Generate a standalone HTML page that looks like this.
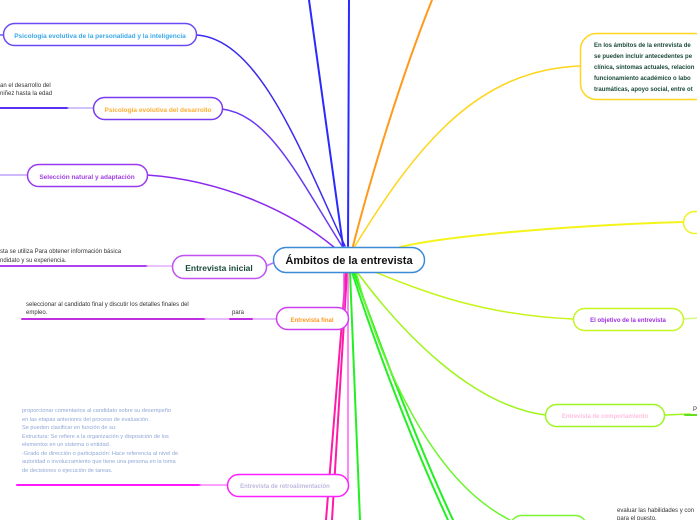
<!DOCTYPE html>
<html><head><meta charset="utf-8"><style>
body{margin:0;background:#fff;width:697px;height:520px;overflow:hidden}
svg text{font-family:"Liberation Sans","DejaVu Sans",sans-serif}
</style></head><body>
<svg width="697" height="520" viewBox="0 0 697 520" xmlns="http://www.w3.org/2000/svg">
<g fill="none" stroke-linecap="round">
<!-- blue -->
<path d="M309,0 L343,246" stroke="#2a2aff" stroke-width="2"/>
<path d="M349,0 L348,246" stroke="#2a2aff" stroke-width="2"/>
<path d="M197,35 C260,40 300,150 345,246" stroke="#3a2aee" stroke-width="1.5"/>
<path d="M222,109 C270,115 300,180 342,246" stroke="#6a3af0" stroke-width="1.5"/>
<path d="M147,175 C220,180 290,210 335,248" stroke="#8a2aee" stroke-width="1.5"/>
<!-- orange -->
<path d="M432,0 C400,80 370,180 353,246" stroke="#ff9a1a" stroke-width="2"/>
<!-- yellow -->
<path d="M580,66 C480,70 420,140 355,246" stroke="#ffd51a" stroke-width="1.5"/>
<path d="M683,222 C580,225 450,235 400,247" stroke="#f4f41a" stroke-width="2"/>
<!-- yellow green -->
<path d="M573,319 C480,315 420,290 375,272" stroke="#c6f51a" stroke-width="1.5"/>
<path d="M683,319 L697,318" stroke="#d8f880" stroke-width="1.5"/>
<path d="M545,415 C470,405 400,330 357,272" stroke="#9ef51a" stroke-width="1.5"/>
<path d="M664,415 L690,414" stroke="#9ef51a" stroke-width="1.5"/>
<path d="M685,415 L697,415" stroke="#60e020" stroke-width="2"/>
<!-- green -->
<path d="M350,272 L360,520" stroke="#22f022" stroke-width="2"/>
<path d="M352,272 C380,360 420,460 448,520" stroke="#22f022" stroke-width="2"/>
<path d="M354,272 C385,360 425,460 453,520" stroke="#22f022" stroke-width="2"/>
<path d="M356,272 C380,360 430,480 510,520" stroke="#6ef530" stroke-width="1.5"/>
<!-- magenta -->
<path d="M346,272 L326,520" stroke="#ff1aa8" stroke-width="2"/>
<path d="M347,272 L332,520" stroke="#ff1aa8" stroke-width="2"/>
<path d="M348,272 L348,485" stroke="#ff60f0" stroke-width="1.5"/>
<path d="M344,272 L344,310" stroke="#e050f0" stroke-width="1.5"/>
<!-- left connectors -->
<path d="M266,266 L273,263" stroke="#c070ff" stroke-width="1.5"/>
<path d="M0,266 L147,266" stroke="#b040f0" stroke-width="2"/>
<path d="M147,266 L172,266" stroke="#e0b0ff" stroke-width="1.5"/>
<path d="M22,319 L205,319" stroke="#c030e0" stroke-width="2"/>
<path d="M205,319 L276,319" stroke="#e0a0ff" stroke-width="1.5"/>
<path d="M230,319 L252,319" stroke="#c030e0" stroke-width="2"/>
<path d="M17,485 L200,485" stroke="#ff1aff" stroke-width="2"/>
<path d="M200,485 L227,485" stroke="#ff80ff" stroke-width="1.5"/>
<path d="M0,108 L68,108" stroke="#5a30f0" stroke-width="2"/>
<path d="M68,108 L93,108" stroke="#c0b0ff" stroke-width="1.5"/>
<path d="M0,175 L27,175" stroke="#c0a0ff" stroke-width="1.5"/>
<path d="M0,35 L3,35" stroke="#6a5af0" stroke-width="1.5"/>
</g>
<!-- nodes -->
<g stroke-width="1.5" fill="#fff">
<rect x="3.5" y="23.5" width="193" height="22" rx="11" stroke="#6a4af5"/>
<rect x="93.5" y="97.5" width="129" height="22" rx="11" stroke="#7a3af0"/>
<rect x="27.5" y="164.5" width="120" height="22" rx="11" stroke="#9a3af0"/>
<rect x="172.5" y="255.5" width="94" height="23" rx="11.5" stroke="#c050f0"/>
<rect x="276.5" y="307.5" width="72" height="22" rx="11" stroke="#d040f0"/>
<rect x="227.5" y="474.5" width="121" height="22" rx="11" stroke="#ff20ff"/>
<rect x="273.5" y="247.5" width="151" height="25" rx="12.5" stroke="#3a8ad8"/>
<rect x="580.5" y="33.5" width="130" height="66" rx="16" stroke="#ffd520"/>
<rect x="683.5" y="211.5" width="30" height="22" rx="11" stroke="#f0f020"/>
<rect x="573.5" y="308.5" width="110" height="22" rx="11" stroke="#c6f520"/>
<rect x="545.5" y="404.5" width="119" height="22" rx="11" stroke="#9ef520"/>
<rect x="510.5" y="515.5" width="76" height="22" rx="11" stroke="#7af530"/>
</g>
<g font-weight="bold" text-anchor="middle">
<text x="100" y="38" font-size="6.5" fill="#3aa8e8">Psicología evolutiva de la personalidad y la inteligencia</text>
<text x="158" y="112" font-size="6.5" fill="#ffae30">Psicología evolutiva del desarrollo</text>
<text x="87" y="179" font-size="6.5" fill="#a040e0">Selección natural y adaptación</text>
<text x="219" y="271" font-size="8.5" fill="#1a4a3a">Entrevista inicial</text>
<text x="312" y="322" font-size="6" fill="#ff9a20">Entrevista final</text>
<text x="285" y="488" font-size="6" fill="#c0b8e0">Entrevista de retroalimentación</text>
<text x="349" y="264" font-size="11" fill="#111">Ámbitos de la entrevista</text>
<text x="628" y="322" font-size="6" fill="#a030e0">El objetivo de la entrevista</text>
<text x="605" y="418" font-size="6" fill="#ffc0e0">Entrevista de comportamiento</text>
</g>
<g font-size="6" fill="#1a4a3a" font-weight="bold">
<text x="594" y="47">En los ámbitos de la entrevista de</text>
<text x="594" y="58">se pueden incluir antecedentes pe</text>
<text x="594" y="69">clínica, síntomas actuales, relacion</text>
<text x="594" y="80">funcionamiento académico o labo</text>
<text x="594" y="91">traumáticas, apoyo social, entre ot</text>
</g>
<g font-size="6" fill="#333">
<text x="0" y="87">an el desarrollo del</text>
<text x="0" y="95">niñez hasta la edad</text>
<text x="0" y="253">sta se utiliza Para obtener información básica</text>
<text x="0" y="262">ndidato y su experiencia.</text>
<text x="26" y="306">seleccionar al candidato final y discutir los detalles finales del</text>
<text x="26" y="314">empleo.</text>
<text x="232" y="314">para</text>
<text x="693" y="411">P</text>
<text x="617" y="512">evaluar las habilidades y con</text>
<text x="617" y="520">para el puesto.</text>
</g>
<g font-size="5.6" fill="#90a8d8">
<text x="22" y="412">proporcionar comentarios al candidato sobre su desempeño</text>
<text x="22" y="421">en las etapas anteriores del proceso de evaluación.</text>
<text x="22" y="429">Se pueden clasificar en función de su:</text>
<text x="22" y="438">Estructura: Se refiere a la organización y disposición de los</text>
<text x="22" y="446">elementos en un sistema o entidad.</text>
<text x="22" y="455">-Grado de dirección o participación: Hace referencia al nivel de</text>
<text x="22" y="463">autoridad o involucramiento que tiene una persona en la toma</text>
<text x="22" y="472">de decisiones o ejecución de tareas.</text>
</g>
</svg>
</body></html>
